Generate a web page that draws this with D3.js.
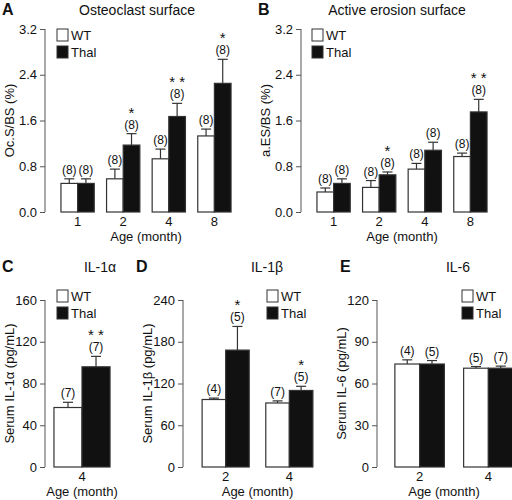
<!DOCTYPE html>
<html><head><meta charset="utf-8">
<script src="https://cdn.jsdelivr.net/npm/d3@7"></script>
<style>
body{margin:0;background:#fff}
text{font-family:"Liberation Sans",Arial,sans-serif;fill:#111}
</style></head><body>
<svg id="chart" width="512" height="500"></svg>
<script>
// panel A: osteoclast surface
let agesA = ['1','2','4','8']
let ocWT = [0.50, 0.58, 0.93, 1.33]
let ocWTerr = [0.08, 0.17, 0.17, 0.12]
let ocThal = [0.50, 1.17, 1.67, 2.25]
let ocThalErr = [0.08, 0.20, 0.23, 0.42]
let ocN = [['(8)','(8)'],['(8)','(8)'],['(8)','(8)'],['(8)','(8)']]
let ocStars = ['', '*', '**', '*']

// panel B: active erosion surface
let esWT = [0.35, 0.43, 0.75, 0.97]
let esWTerr = [0.07, 0.12, 0.10, 0.06]
let esThal = [0.50, 0.65, 1.08, 1.75]
let esThalErr = [0.08, 0.05, 0.14, 0.22]
let esStars = ['', '*', '', '**']

// panel C: IL-1a
let agesC = ['4']
let il1aWT = [57], il1aWTerr = [5]
let il1aThal = [96], il1aThalErr = [10]
let il1aN = [['(7)','(7)']]
let il1aStars = ['**']

// panel D: IL-1b
let agesD = ['2','4']
let il1bWT = [97, 92], il1bWTerr = [2, 3]
let il1bThal = [168, 110], il1bThalErr = [34, 6]
let il1bN = [['(4)','(5)'],['(7)','(5)']]
let il1bStars = ['*', '*']

// panel E: IL-6
let il6WT = [74, 71], il6WTerr = [3, 1.2]
let il6Thal = [74, 71], il6ThalErr = [2.5, 1.5]
let il6N = [['(4)','(5)'],['(5)','(7)']]
let il6Stars = ['', '']

let svg = d3.select('#chart')

function drawPanel(cfg){
    let g = svg.append('g')
    let yScale = d3.scaleLinear().domain([0, cfg.max]).range([cfg.y0, cfg.y1])
    let xScale = d3.scaleBand().domain(cfg.ages).range([cfg.x0, cfg.x1]).paddingInner(cfg.pad).paddingOuter(cfg.outer)
    let sub = d3.scaleBand().domain(['WT','Thal']).range([0, xScale.bandwidth()])

    let yAxis = d3.axisLeft(yScale).tickValues(cfg.ticks).tickFormat(cfg.fmt).tickSize(5).tickPadding(3)
    let ax = g.append('g').attr('transform', 'translate(' + cfg.axisX + ',0)').call(yAxis)
    ax.select('.domain').attr('stroke', '#555').attr('d', 'M0,' + cfg.y1 + 'V' + cfg.y0)
    ax.selectAll('line').attr('stroke', '#555')
    ax.selectAll('text').attr('fill', '#111').style('font-size', '13px').style('font-family', '"Liberation Sans",Arial,sans-serif')

    let rows = cfg.ages.map((a, i) => ({age: a, i: i}))
    for (let s of ['WT','Thal']){
        let vals = s === 'WT' ? cfg.wt : cfg.thal
        let errs = s === 'WT' ? cfg.wtErr : cfg.thalErr
        let cx = d => xScale(d.age) + sub(s) + sub.bandwidth()/2
        g.selectAll(null).data(rows).join('line')
            .attr('x1', cx).attr('x2', cx)
            .attr('y1', d => yScale(vals[d.i])).attr('y2', d => yScale(vals[d.i] + errs[d.i]))
            .attr('stroke', '#333').attr('stroke-width', 1.2)
        g.selectAll(null).data(rows).join('line')
            .attr('x1', d => cx(d) - 5).attr('x2', d => cx(d) + 5)
            .attr('y1', d => yScale(vals[d.i] + errs[d.i])).attr('y2', d => yScale(vals[d.i] + errs[d.i]))
            .attr('stroke', '#333').attr('stroke-width', 1.2)
        g.selectAll(null).data(rows).join('rect')
            .attr('x', d => xScale(d.age) + sub(s)).attr('width', sub.bandwidth())
            .attr('y', d => yScale(vals[d.i])).attr('height', d => cfg.y0 - yScale(vals[d.i]))
            .attr('fill', s === 'WT' ? '#fff' : '#111').attr('stroke', '#333').attr('stroke-width', 1.2)
        g.selectAll(null).data(rows).join('text')
            .text(d => cfg.n[d.i][s === 'WT' ? 0 : 1])
            .attr('x', cx).attr('y', d => yScale(vals[d.i] + errs[d.i]) - 5)
            .attr('fill', '#111').attr('text-anchor', 'middle').style('font-size', '12px')
        if (s === 'Thal'){
            g.selectAll(null).data(rows).join('text')
                .text(d => cfg.stars[d.i].split('').join(' '))
                .attr('x', cx).attr('y', d => yScale(vals[d.i] + errs[d.i]) - 16)
                .attr('fill', '#111').attr('text-anchor', 'middle').style('font-size', '15px')
        }
    }

    g.selectAll(null).data(cfg.ages).join('text').text(d => d)
        .attr('x', d => xScale(d) + xScale.bandwidth()/2).attr('y', cfg.y0 + 14)
        .attr('text-anchor', 'middle').style('font-size', '13px')
    g.append('text').text('Age (month)').attr('x', (xScale.range()[0] + xScale.range()[1]) / 2 + cfg.labShift)
        .attr('y', cfg.y0 + 29).attr('text-anchor', 'middle').style('font-size', '13px')
    g.append('text').text(cfg.ylabel).attr('transform', 'translate(' + (cfg.axisX - 31) + ',' + ((cfg.y0 + cfg.y1) / 2) + ') rotate(-90)')
        .attr('text-anchor', 'middle').style('font-size', '13px')
    g.append('text').text(cfg.title).attr('x', cfg.titleX).attr('y', cfg.titleY).attr('text-anchor', 'middle').style('font-size', '14px')
    g.append('text').text(cfg.letter).attr('x', cfg.letterX).attr('y', cfg.titleY).style('font-size', '16px').style('font-weight', 'bold')

    // legend
    let leg = [{k: 'WT', c: '#fff'}, {k: 'Thal', c: '#111'}]
    g.selectAll(null).data(leg).join('rect')
        .attr('x', cfg.legX).attr('y', (d, i) => cfg.legY + i * 17).attr('width', 11).attr('height', 12)
        .attr('fill', d => d.c).attr('stroke', '#333')
    g.selectAll(null).data(leg).join('text').text(d => d.k)
        .attr('x', cfg.legX + 14).attr('y', (d, i) => cfg.legY + 11 + i * 17).style('font-size', '13px')
}

drawPanel({letter: 'A', letterX: 2, title: 'Osteoclast surface', titleX: 137, titleY: 15,
    ages: agesA, wt: ocWT, wtErr: ocWTerr, thal: ocThal, thalErr: ocThalErr, n: ocN, stars: ocStars,
    max: 3.2, ticks: [0, 0.8, 1.6, 2.4, 3.2], fmt: d3.format('.1f'), ylabel: 'Oc.S/BS (%)',
    axisX: 45, x0: 45, x1: 247, pad: 0.27, outer: 0.35, y0: 212, y1: 29, legX: 57, legY: 29, labShift: 0})
drawPanel({letter: 'B', letterX: 258, title: 'Active erosion surface', titleX: 397, titleY: 15,
    ages: agesA, wt: esWT, wtErr: esWTerr, thal: esThal, thalErr: esThalErr, n: ocN, stars: esStars,
    max: 3.2, ticks: [0, 0.8, 1.6, 2.4, 3.2], fmt: d3.format('.1f'), ylabel: 'a.ES/BS (%)',
    axisX: 301, x0: 301, x1: 503, pad: 0.27, outer: 0.35, y0: 212, y1: 29, legX: 312, legY: 29, labShift: 0})
drawPanel({letter: 'C', letterX: 2, title: 'IL-1α', titleX: 100, titleY: 272,
    ages: agesC, wt: il1aWT, wtErr: il1aWTerr, thal: il1aThal, thalErr: il1aThalErr, n: il1aN, stars: il1aStars,
    max: 160, ticks: [0, 40, 80, 120, 160], fmt: d3.format('d'), ylabel: 'Serum IL-1α (pg/mL)',
    axisX: 45, x0: 45, x1: 119, pad: 0, outer: 0.16, y0: 467, y1: 300, legX: 57, legY: 290, labShift: 0})
drawPanel({letter: 'D', letterX: 136, title: 'IL-1β', titleX: 267, titleY: 272,
    ages: agesD, wt: il1bWT, wtErr: il1bWTerr, thal: il1bThal, thalErr: il1bThalErr, n: il1bN, stars: il1bStars,
    max: 240, ticks: [0, 60, 120, 180, 240], fmt: d3.format('d'), ylabel: 'Serum IL-1β (pg/mL)',
    axisX: 183, x0: 183, x1: 332, pad: 0.26, outer: 0.3, y0: 467, y1: 300, legX: 267, legY: 290, labShift: 0})
drawPanel({letter: 'E', letterX: 340, title: 'IL-6', titleX: 458, titleY: 272,
    ages: agesD, wt: il6WT, wtErr: il6WTerr, thal: il6Thal, thalErr: il6ThalErr, n: il6N, stars: il6Stars,
    max: 120, ticks: [0, 30, 60, 90, 120], fmt: d3.format('d'), ylabel: 'Serum IL-6 (pg/mL)',
    axisX: 377, x0: 377, x1: 531, pad: 0.28, outer: 0.26, y0: 467, y1: 300, legX: 462, legY: 290, labShift: -10})
</script>
</body></html>
